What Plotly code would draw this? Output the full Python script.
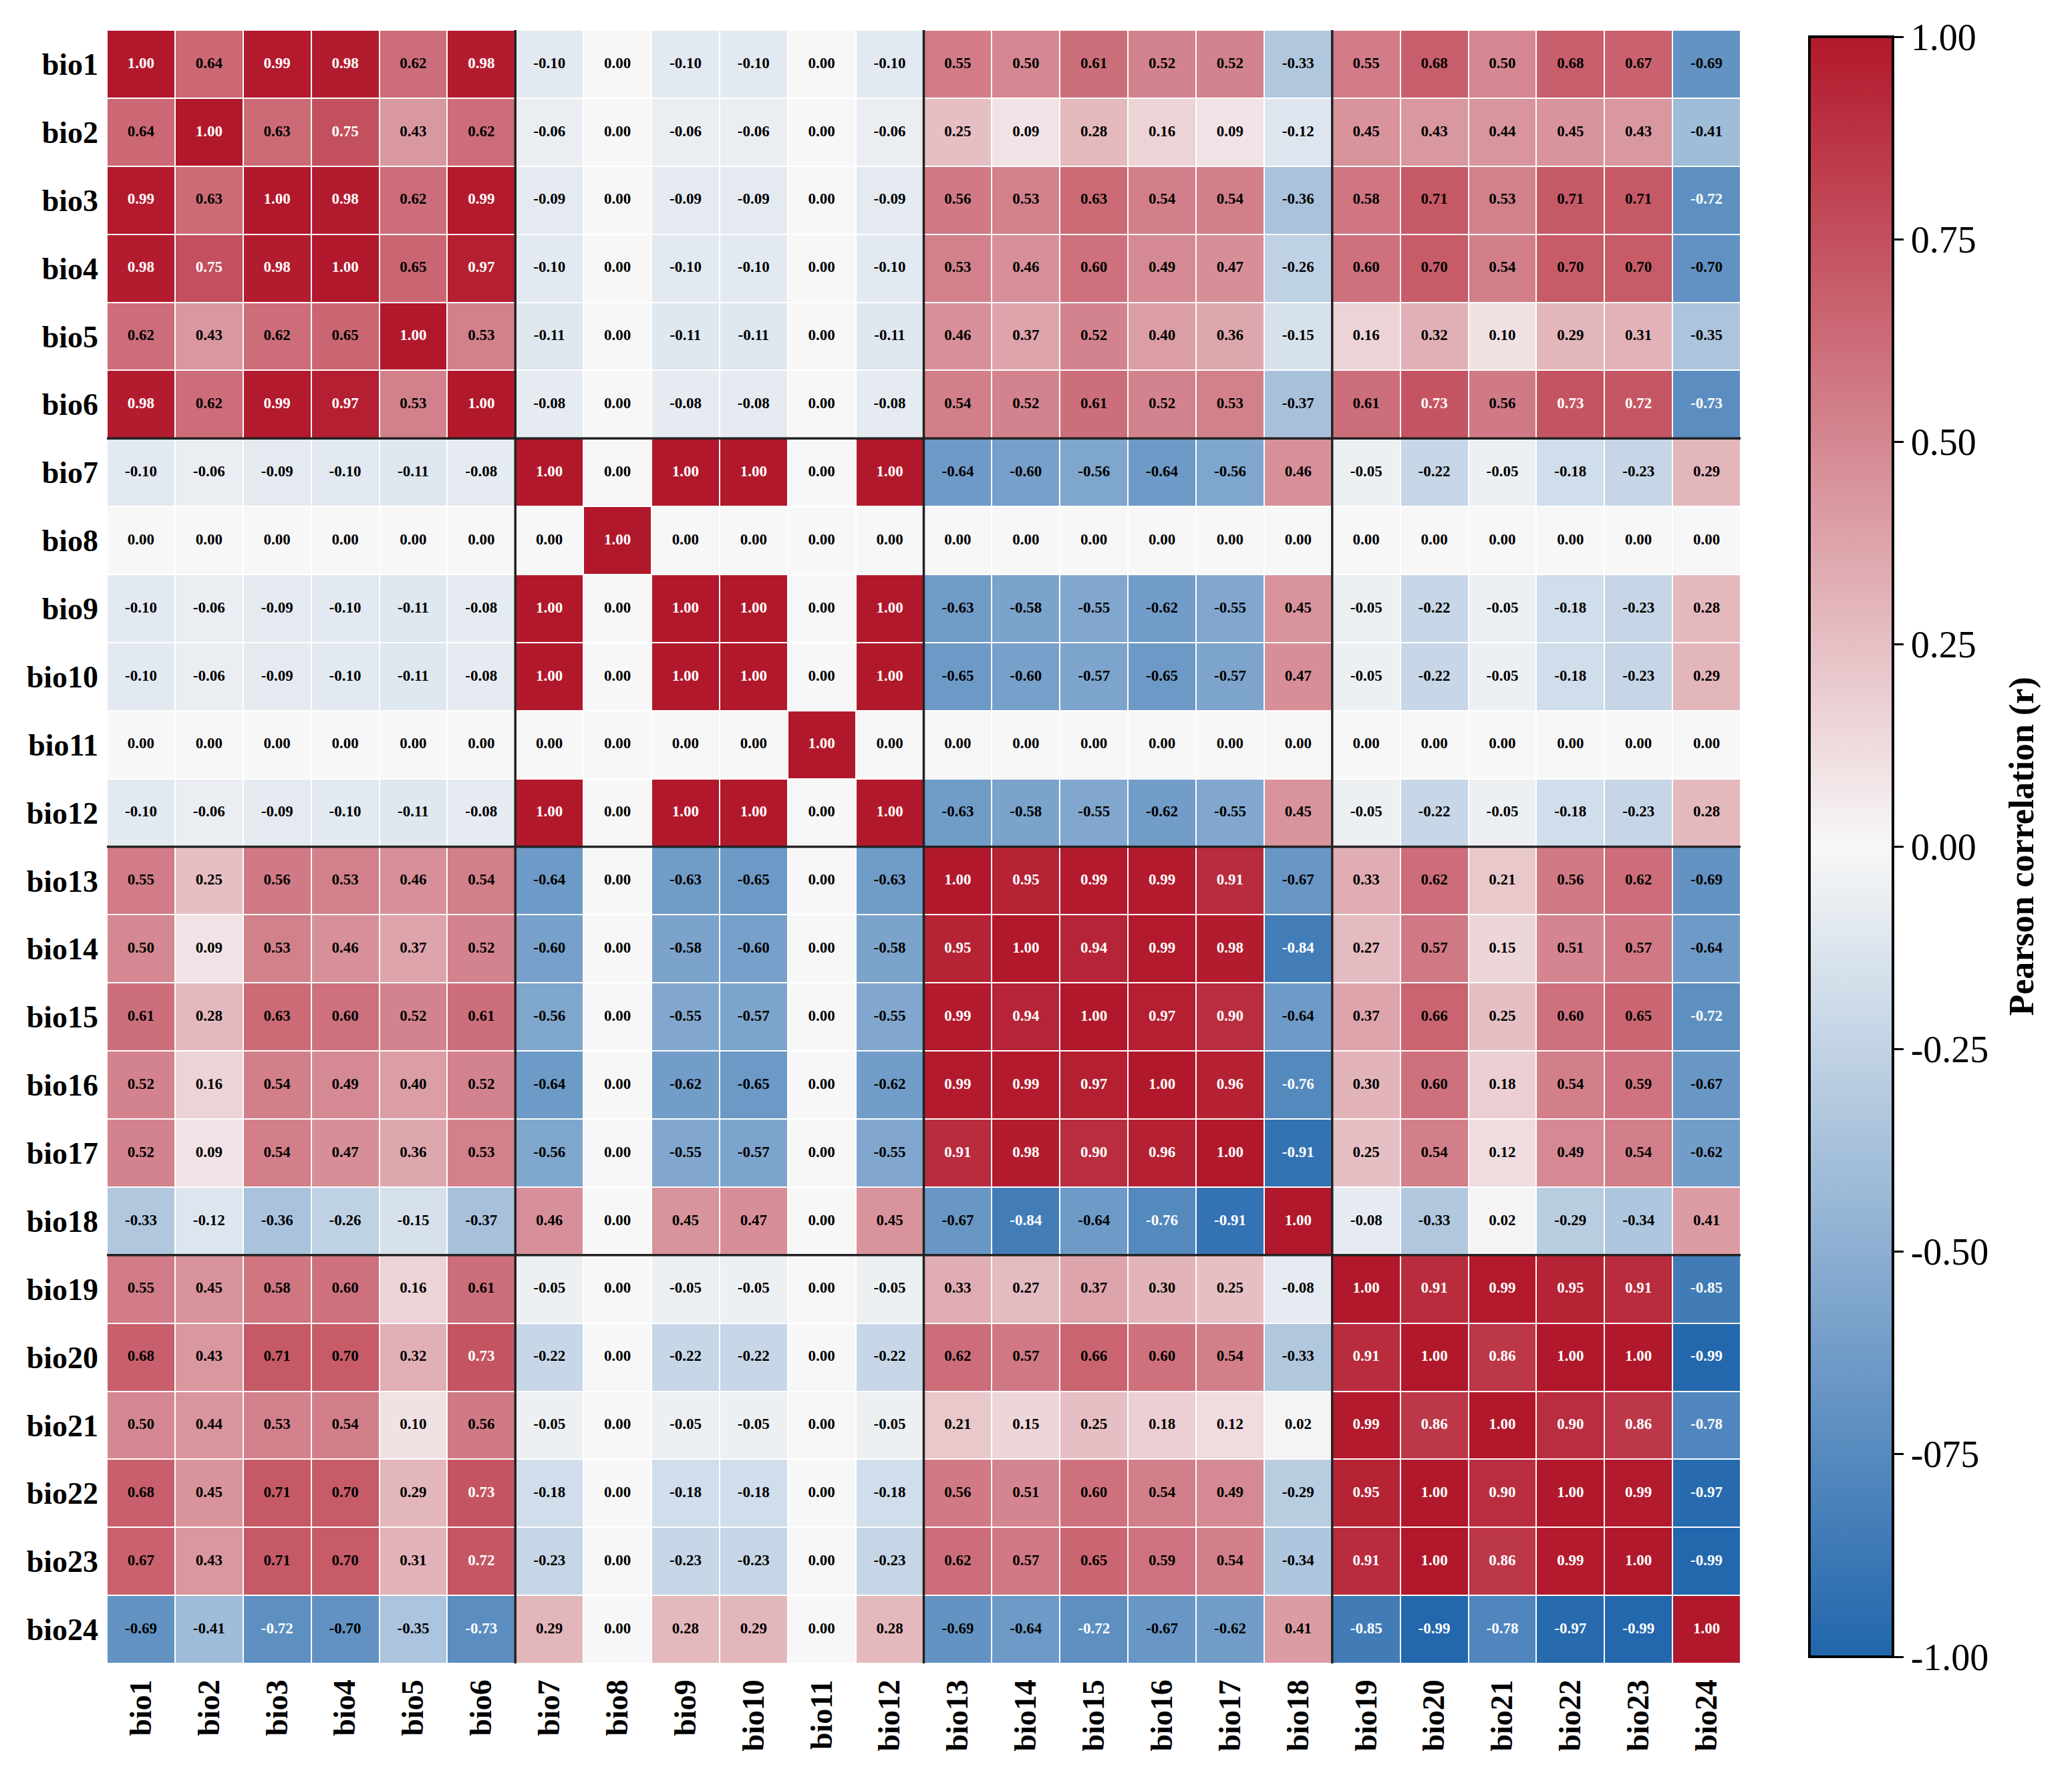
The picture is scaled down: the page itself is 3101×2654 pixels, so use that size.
import plotly.graph_objects as go

labels = [f"bio{i}" for i in range(1, 25)]

r_bio1 = [1.00, 0.64, 0.99, 0.98, 0.62, 0.98, -0.10, 0.00, -0.10, -0.10, 0.00, -0.10, 0.55, 0.50, 0.61, 0.52, 0.52, -0.33, 0.55, 0.68, 0.50, 0.68, 0.67, -0.69]
r_bio2 = [0.64, 1.00, 0.63, 0.75, 0.43, 0.62, -0.06, 0.00, -0.06, -0.06, 0.00, -0.06, 0.25, 0.09, 0.28, 0.16, 0.09, -0.12, 0.45, 0.43, 0.44, 0.45, 0.43, -0.41]
r_bio3 = [0.99, 0.63, 1.00, 0.98, 0.62, 0.99, -0.09, 0.00, -0.09, -0.09, 0.00, -0.09, 0.56, 0.53, 0.63, 0.54, 0.54, -0.36, 0.58, 0.71, 0.53, 0.71, 0.71, -0.72]
r_bio4 = [0.98, 0.75, 0.98, 1.00, 0.65, 0.97, -0.10, 0.00, -0.10, -0.10, 0.00, -0.10, 0.53, 0.46, 0.60, 0.49, 0.47, -0.26, 0.60, 0.70, 0.54, 0.70, 0.70, -0.70]
r_bio5 = [0.62, 0.43, 0.62, 0.65, 1.00, 0.53, -0.11, 0.00, -0.11, -0.11, 0.00, -0.11, 0.46, 0.37, 0.52, 0.40, 0.36, -0.15, 0.16, 0.32, 0.10, 0.29, 0.31, -0.35]
r_bio6 = [0.98, 0.62, 0.99, 0.97, 0.53, 1.00, -0.08, 0.00, -0.08, -0.08, 0.00, -0.08, 0.54, 0.52, 0.61, 0.52, 0.53, -0.37, 0.61, 0.73, 0.56, 0.73, 0.72, -0.73]
r_bio7 = [-0.10, -0.06, -0.09, -0.10, -0.11, -0.08, 1.00, 0.00, 1.00, 1.00, 0.00, 1.00, -0.64, -0.60, -0.56, -0.64, -0.56, 0.46, -0.05, -0.22, -0.05, -0.18, -0.23, 0.29]
r_bio8 = [0.00, 0.00, 0.00, 0.00, 0.00, 0.00, 0.00, 1.00, 0.00, 0.00, 0.00, 0.00, 0.00, 0.00, 0.00, 0.00, 0.00, 0.00, 0.00, 0.00, 0.00, 0.00, 0.00, 0.00]
r_bio9 = [-0.10, -0.06, -0.09, -0.10, -0.11, -0.08, 1.00, 0.00, 1.00, 1.00, 0.00, 1.00, -0.63, -0.58, -0.55, -0.62, -0.55, 0.45, -0.05, -0.22, -0.05, -0.18, -0.23, 0.28]
r_bio10 = [-0.10, -0.06, -0.09, -0.10, -0.11, -0.08, 1.00, 0.00, 1.00, 1.00, 0.00, 1.00, -0.65, -0.60, -0.57, -0.65, -0.57, 0.47, -0.05, -0.22, -0.05, -0.18, -0.23, 0.29]
r_bio11 = [0.00, 0.00, 0.00, 0.00, 0.00, 0.00, 0.00, 0.00, 0.00, 0.00, 1.00, 0.00, 0.00, 0.00, 0.00, 0.00, 0.00, 0.00, 0.00, 0.00, 0.00, 0.00, 0.00, 0.00]
r_bio12 = [-0.10, -0.06, -0.09, -0.10, -0.11, -0.08, 1.00, 0.00, 1.00, 1.00, 0.00, 1.00, -0.63, -0.58, -0.55, -0.62, -0.55, 0.45, -0.05, -0.22, -0.05, -0.18, -0.23, 0.28]
r_bio13 = [0.55, 0.25, 0.56, 0.53, 0.46, 0.54, -0.64, 0.00, -0.63, -0.65, 0.00, -0.63, 1.00, 0.95, 0.99, 0.99, 0.91, -0.67, 0.33, 0.62, 0.21, 0.56, 0.62, -0.69]
r_bio14 = [0.50, 0.09, 0.53, 0.46, 0.37, 0.52, -0.60, 0.00, -0.58, -0.60, 0.00, -0.58, 0.95, 1.00, 0.94, 0.99, 0.98, -0.84, 0.27, 0.57, 0.15, 0.51, 0.57, -0.64]
r_bio15 = [0.61, 0.28, 0.63, 0.60, 0.52, 0.61, -0.56, 0.00, -0.55, -0.57, 0.00, -0.55, 0.99, 0.94, 1.00, 0.97, 0.90, -0.64, 0.37, 0.66, 0.25, 0.60, 0.65, -0.72]
r_bio16 = [0.52, 0.16, 0.54, 0.49, 0.40, 0.52, -0.64, 0.00, -0.62, -0.65, 0.00, -0.62, 0.99, 0.99, 0.97, 1.00, 0.96, -0.76, 0.30, 0.60, 0.18, 0.54, 0.59, -0.67]
r_bio17 = [0.52, 0.09, 0.54, 0.47, 0.36, 0.53, -0.56, 0.00, -0.55, -0.57, 0.00, -0.55, 0.91, 0.98, 0.90, 0.96, 1.00, -0.91, 0.25, 0.54, 0.12, 0.49, 0.54, -0.62]
r_bio18 = [-0.33, -0.12, -0.36, -0.26, -0.15, -0.37, 0.46, 0.00, 0.45, 0.47, 0.00, 0.45, -0.67, -0.84, -0.64, -0.76, -0.91, 1.00, -0.08, -0.33, 0.02, -0.29, -0.34, 0.41]
r_bio19 = [0.55, 0.45, 0.58, 0.60, 0.16, 0.61, -0.05, 0.00, -0.05, -0.05, 0.00, -0.05, 0.33, 0.27, 0.37, 0.30, 0.25, -0.08, 1.00, 0.91, 0.99, 0.95, 0.91, -0.85]
r_bio20 = [0.68, 0.43, 0.71, 0.70, 0.32, 0.73, -0.22, 0.00, -0.22, -0.22, 0.00, -0.22, 0.62, 0.57, 0.66, 0.60, 0.54, -0.33, 0.91, 1.00, 0.86, 1.00, 1.00, -0.99]
r_bio21 = [0.50, 0.44, 0.53, 0.54, 0.10, 0.56, -0.05, 0.00, -0.05, -0.05, 0.00, -0.05, 0.21, 0.15, 0.25, 0.18, 0.12, 0.02, 0.99, 0.86, 1.00, 0.90, 0.86, -0.78]
r_bio22 = [0.68, 0.45, 0.71, 0.70, 0.29, 0.73, -0.18, 0.00, -0.18, -0.18, 0.00, -0.18, 0.56, 0.51, 0.60, 0.54, 0.49, -0.29, 0.95, 1.00, 0.90, 1.00, 0.99, -0.97]
r_bio23 = [0.67, 0.43, 0.71, 0.70, 0.31, 0.72, -0.23, 0.00, -0.23, -0.23, 0.00, -0.23, 0.62, 0.57, 0.65, 0.59, 0.54, -0.34, 0.91, 1.00, 0.86, 0.99, 1.00, -0.99]
r_bio24 = [-0.69, -0.41, -0.72, -0.70, -0.35, -0.73, 0.29, 0.00, 0.28, 0.29, 0.00, 0.28, -0.69, -0.64, -0.72, -0.67, -0.62, 0.41, -0.85, -0.99, -0.78, -0.97, -0.99, 1.00]

matrix = [r_bio1, r_bio2, r_bio3, r_bio4, r_bio5, r_bio6, r_bio7, r_bio8,
          r_bio9, r_bio10, r_bio11, r_bio12, r_bio13, r_bio14, r_bio15, r_bio16,
          r_bio17, r_bio18, r_bio19, r_bio20, r_bio21, r_bio22, r_bio23, r_bio24]

cbar_vals = [1.0, 0.75, 0.5, 0.25, 0.0, -0.25, -0.5, -0.75, -1.0]
cbar_text = ["1.00", "0.75", "0.50", "0.25", "0.00", "-0.25", "-0.50", "-075", "-1.00"]
cbar_title = "Pearson correlation (r)"
block_edges = [5.5, 11.5, 17.5]

FONT = "Liberation Serif"
n = len(labels)
idx = list(range(n))

fig = go.Figure()
fig.add_trace(go.Heatmap(
    z=matrix, x=idx, y=idx, zmin=-1, zmax=1,
    colorscale=[[0, "#2166ac"], [0.5, "#f7f7f7"], [1, "#b2182b"]],
    xgap=2, ygap=2, hoverongaps=False,
    colorbar=dict(
        x=1.038, xanchor="left", xref="paper",
        y=0.5, yanchor="middle", len=1.0, lenmode="fraction",
        thickness=125, outlinewidth=4, outlinecolor="black",
        tickmode="array", tickvals=cbar_vals, ticktext=cbar_text,
        ticks="outside", ticklen=14, tickwidth=3, tickcolor="black",
        tickfont=dict(family=FONT, size=56, color="black"),
    ),
))

wx, wy, wt, bx, by, bt = [], [], [], [], [], []
for i, row in enumerate(matrix):
    for j, v in enumerate(row):
        s = f"{v:.2f}"
        if abs(v) >= 0.715:
            wx.append(j); wy.append(i); wt.append(s)
        else:
            bx.append(j); by.append(i); bt.append(s)

fig.add_trace(go.Scatter(x=wx, y=wy, text=wt, mode="text", hoverinfo="skip",
                         textfont=dict(family=FONT, size=23, color="white", weight="bold"),
                         showlegend=False))
fig.add_trace(go.Scatter(x=bx, y=by, text=bt, mode="text", hoverinfo="skip",
                         textfont=dict(family=FONT, size=23, color="black", weight="bold"),
                         showlegend=False))

for e in block_edges:
    fig.add_shape(type="line", x0=e, x1=e, y0=-0.5, y1=n - 0.5, xref="x", yref="y",
                  line=dict(color="#222222", width=3.5), layer="above")
    fig.add_shape(type="line", y0=e, y1=e, x0=-0.5, x1=n - 0.5, xref="x", yref="y",
                  line=dict(color="#222222", width=3.5), layer="above")

fig.add_annotation(text=cbar_title, xref="paper", yref="paper", x=1.1718, y=0.5,
                   xanchor="center", yanchor="middle", textangle=-90, showarrow=False,
                   font=dict(family=FONT, size=52, color="black", weight="bold"))

fig.update_layout(
    width=3101, height=2654,
    margin=dict(l=160, r=496, t=45, b=164),
    paper_bgcolor="white", plot_bgcolor="white",
    showlegend=False,
    xaxis=dict(tickmode="array", tickvals=idx, ticktext=labels, tickangle=-90,
               range=[-0.5, n - 0.5], showgrid=False, zeroline=False, showline=False,
               ticks="", ticklabelstandoff=14,
               tickfont=dict(family=FONT, size=46, color="black", weight="bold")),
    yaxis=dict(tickmode="array", tickvals=idx, ticktext=labels,
               range=[n - 0.5, -0.5], showgrid=False, zeroline=False, showline=False,
               ticks="", ticklabelstandoff=12,
               tickfont=dict(family=FONT, size=46, color="black", weight="bold")),
)

fig.write_html("out.html")
